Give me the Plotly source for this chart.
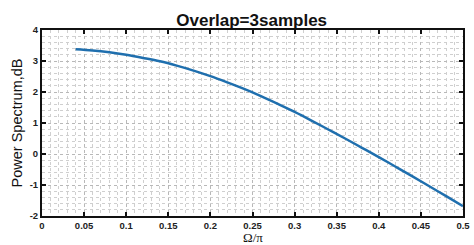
import plotly.graph_objects as go

freq = [0.04, 0.06, 0.08, 0.10, 0.12, 0.14, 0.16, 0.18, 0.20, 0.22, 0.24, 0.26,
        0.28, 0.30, 0.32, 0.34, 0.36, 0.38, 0.40, 0.42, 0.44, 0.46, 0.48, 0.50]
power_db = [3.38, 3.34, 3.28, 3.20, 3.10, 2.99, 2.85, 2.69, 2.51, 2.31, 2.10, 1.87,
            1.62, 1.36, 1.08, 0.79, 0.50, 0.20, -0.10, -0.41, -0.72, -1.04, -1.36, -1.68]
x_ticks = [0, 0.05, 0.1, 0.15, 0.2, 0.25, 0.3, 0.35, 0.4, 0.45, 0.5]
x_labels = ["<b>0</b>", "<b>0.05</b>", "<b>0.1</b>", "<b>0.15</b>", "<b>0.2</b>", "<b>0.25</b>",
            "<b>0.3</b>", "<b>0.35</b>", "<b>0.4</b>", "<b>0.45</b>", "<b>0.5</b>"]
y_ticks = [-2, -1, 0, 1, 2, 3, 4]
y_labels = ["<b>-2</b>", "<b>-1</b>", "<b>0</b>", "<b>1</b>", "<b>2</b>", "<b>3</b>", "<b>4</b>"]

fig = go.Figure()
fig.add_trace(go.Scatter(x=freq, y=power_db, mode="lines",
                         line=dict(color="#1f6fae", width=2.5, shape="spline"),
                         showlegend=False))

tickfont = dict(family="Liberation Sans, Arial", size=9.5, color="#222")
grid = dict(showgrid=True, gridcolor="#b8b8b8", griddash="dot", gridwidth=1)
fig.update_xaxes(range=[0, 0.5], tickvals=x_ticks, ticktext=x_labels,
                 ticks="inside", ticklen=4, tickwidth=1.5, tickcolor="#111",
                 showline=True, linecolor="#111", linewidth=2, mirror="ticks",
                 tickfont=tickfont, zeroline=False, automargin=False,
                 minor=dict(dtick=0.01, showgrid=True, gridcolor="#cfcfcf", griddash="dot", ticks=""),
                 **grid)
fig.update_yaxes(range=[-2, 4], tickvals=y_ticks, ticktext=y_labels,
                 ticks="inside", ticklen=4, tickwidth=1.5, tickcolor="#111",
                 showline=True, linecolor="#111", linewidth=2, mirror="ticks",
                 tickfont=tickfont, zeroline=False, automargin=False,
                 minor=dict(dtick=0.2, showgrid=True, gridcolor="#cfcfcf", griddash="dot", ticks=""),
                 title=dict(text="Power Spectrum,dB", font=dict(family="Liberation Sans, Arial", size=14.5, color="#111"), standoff=4),
                 **grid)
fig.add_annotation(text="Ω/π", xref="paper", yref="paper", x=0.5, y=-0.113,
                   xanchor="center", yanchor="middle", showarrow=False,
                   font=dict(family="Liberation Serif, Times New Roman", size=13, color="#111"))
fig.update_layout(
    width=474, height=245,
    margin=dict(l=42, r=11, t=30, b=29),
    paper_bgcolor="white", plot_bgcolor="white",
    title=dict(text="<b>Overlap=3samples</b>", x=0.531, xanchor="center", y=0.92, yanchor="middle",
               font=dict(family="Liberation Sans, Arial", size=17, color="#111")),
)
fig.write_html("out.html")
